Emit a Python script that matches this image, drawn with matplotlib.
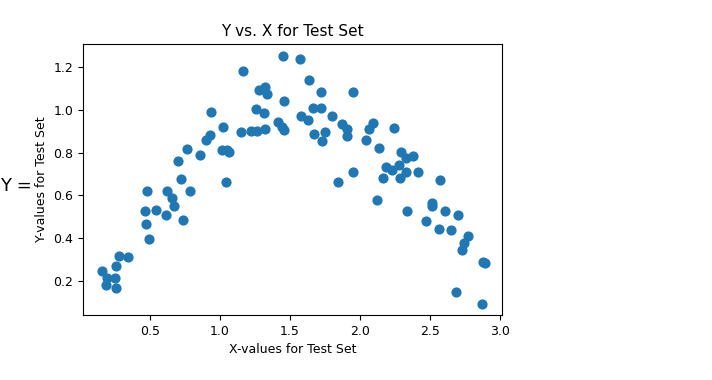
import numpy as np
from matplotlib import pyplot as plt

# test set points
x_test = [0.158, 0.194, 0.183, 0.246, 0.256, 0.256, 0.276, 0.34, 0.49, 0.471,
          0.464, 0.48, 0.543, 0.615, 0.624, 0.653, 0.67, 0.732, 0.784, 0.722,
          1.044, 0.696, 0.765, 0.856, 0.901, 0.93, 0.939, 1.02, 1.017, 1.049,
          1.065, 1.153, 1.168, 1.225, 1.268, 1.325, 1.259, 1.314, 1.279, 1.325,
          1.333, 1.448, 1.458, 1.415, 1.445, 1.459, 1.574, 1.639, 1.725, 1.949,
          1.662, 1.72, 1.581, 1.629, 1.798, 1.87, 1.909, 1.909, 2.097, 2.068,
          2.248, 1.672, 1.751, 1.731, 2.047, 2.138, 2.293, 2.329, 2.377, 2.281,
          2.185, 2.228, 2.329, 2.417, 2.572, 2.169, 2.291, 1.949, 1.844, 2.121,
          2.518, 2.518, 2.336, 2.613, 2.706, 2.47, 2.57, 2.651, 2.771, 2.747,
          2.733, 2.878, 2.895, 2.686, 2.873]
y_test = [0.247, 0.213, 0.181, 0.213, 0.166, 0.27, 0.317, 0.311, 0.398, 0.468,
          0.527, 0.62, 0.533, 0.51, 0.62, 0.586, 0.55, 0.486, 0.62, 0.675,
          0.661, 0.761, 0.818, 0.789, 0.859, 0.882, 0.988, 0.918, 0.812, 0.812,
          0.804, 0.895, 1.181, 0.902, 0.902, 0.912, 1.005, 0.986, 1.093, 1.105,
          1.074, 1.251, 1.041, 0.943, 0.918, 0.905, 1.237, 1.139, 1.082, 1.082,
          1.01, 1.01, 0.97, 0.951, 0.97, 0.934, 0.91, 0.876, 0.938, 0.909,
          0.916, 0.888, 0.896, 0.854, 0.86, 0.82, 0.801, 0.773, 0.783, 0.743,
          0.731, 0.72, 0.709, 0.708, 0.672, 0.68, 0.68, 0.708, 0.661, 0.579,
          0.563, 0.55, 0.527, 0.527, 0.51, 0.48, 0.444, 0.438, 0.41, 0.376,
          0.345, 0.289, 0.283, 0.147, 0.094]

fig = plt.figure(figsize=(7.12, 3.8), dpi=100)
ax = fig.add_axes([0.1166, 0.171, 0.589, 0.713])
ax.scatter(x_test, y_test, color="#1f77b4", s=40)
ax.set_xlim(0.02, 3.02)
ax.set_ylim(0.041, 1.307)
ax.set_xticks([0.5, 1.0, 1.5, 2.0, 2.5, 3.0])
ax.set_yticks([0.2, 0.4, 0.6, 0.8, 1.0, 1.2])
ax.tick_params(labelsize=9)
ax.set_title("Y vs. X for Test Set", fontsize=11)
ax.set_xlabel("X-values for Test Set", fontsize=9)
ax.set_ylabel("Y-values for Test Set", fontsize=9)
fig.text(0.0, 0.51, "Y =", fontsize=13, va="center", ha="left")
plt.savefig("out.png", dpi=100)
